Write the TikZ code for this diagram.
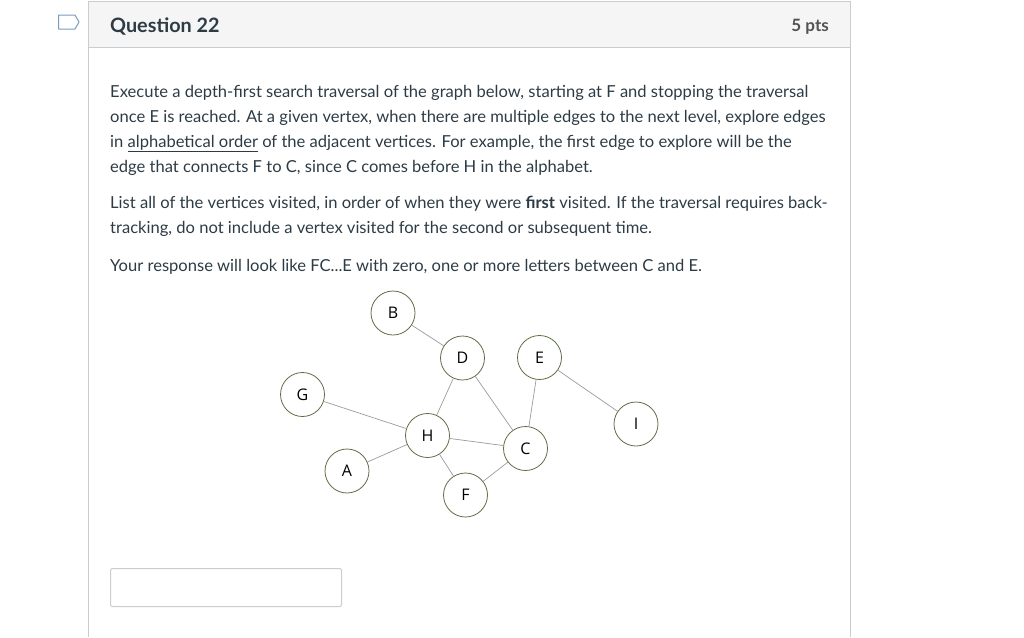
\documentclass[tikz,border=0pt]{standalone}
\usepackage{fontspec}
\setmainfont{Lato}
\newfontfamily\nodefont{Open Sans}
\definecolor{txt}{HTML}{2D3B45}
\definecolor{hdrfill}{HTML}{F5F5F5}
\definecolor{hdrline}{HTML}{C7CDD1}
\definecolor{nodeline}{HTML}{5E6E44}
\definecolor{edgecol}{HTML}{9A9A9A}
\definecolor{iconcol}{HTML}{7B9BBA}
\begin{document}
\begin{tikzpicture}[x=1pt,y=-1pt,
  vert/.style={circle,draw=nodeline,line width=0.8pt,minimum size=44pt,inner sep=0pt,fill=white,font=\nodefont\fontsize{16}{18}\selectfont,text=black},
  edge/.style={draw=edgecol,line width=0.7pt},
  para/.style={anchor=base west,inner sep=0pt,text=txt,font=\fontsize{16.55}{20}\selectfont}]
\useasboundingbox (0,0) rectangle (1024,637);
% panel
\fill[hdrfill] (88,1) rectangle (850,47);
\draw[hdrline,line width=1pt] (88,637) -- (88,1) -- (850,1) -- (850,637);
\draw[hdrline,line width=1pt] (88,47) -- (850,47);
% icon
\draw[iconcol,line width=1pt,line join=round] (58.5,15) -- (75,15) -- (79,22) -- (75,29) -- (58.5,29) -- cycle;
\node[anchor=base west,inner sep=0pt,text=txt,font=\fontsize{19.8}{24}\selectfont\bfseries] (title) at (110,32) {Question 22};
\node[anchor=base east,inner sep=0pt,text=black!68,font=\fontsize{17}{20}\selectfont\bfseries] (pts) at (829,31.5) {5 pts};
% paragraphs
\node[para] (l1) at (110,97) {Execute a depth-first search traversal of the graph below, starting at F and stopping the traversal};
\node[para] (l2) at (110,122) {once E is reached. At a given vertex, when there are multiple edges to the next level, explore edges};
\node[para] (l3) at (110,147) {in \underline{alphabetical order} of the adjacent vertices. For example, the first edge to explore will be the};
\node[para] (l4) at (110,172) {edge that connects F to C, since C comes before H in the alphabet.};
\node[para] (l5) at (110,208) {List all of the vertices visited, in order of when they were \textbf{first} visited. If the traversal requires back-};
\node[para] (l6) at (110,233) {tracking, do not include a vertex visited for the second or subsequent time.};
\node[para] (l7) at (110,271) {Your response will look like FC...E with zero, one or more letters between C and E.};
% graph
\node[vert] (B) at (393,313) {B};
\node[vert] (D) at (462.5,358) {D};
\node[vert] (E) at (539.5,357.5) {E};
\node[vert] (G) at (302.5,394.5) {G};
\node[vert] (I) at (636,424) {I};
\node[vert] (H) at (427.5,435.5) {H};
\node[vert] (C) at (525.5,448.5) {C};
\node[vert] (A) at (347,471) {A};
\node[vert] (F) at (465.5,495) {F};
\path[edge] (B) -- (D);
\path[edge] (D) -- (H);
\path[edge] (D) -- (C);
\path[edge] (E) -- (C);
\path[edge] (E) -- (I);
\path[edge] (G) -- (H);
\path[edge] (H) -- (C);
\path[edge] (H) -- (A);
\path[edge] (H) -- (F);
\path[edge] (F) -- (C);
% input box
\draw[hdrline,line width=1pt,rounded corners=2pt] (110.5,568.5) rectangle (341.5,606.5);
\end{tikzpicture}
\end{document}
